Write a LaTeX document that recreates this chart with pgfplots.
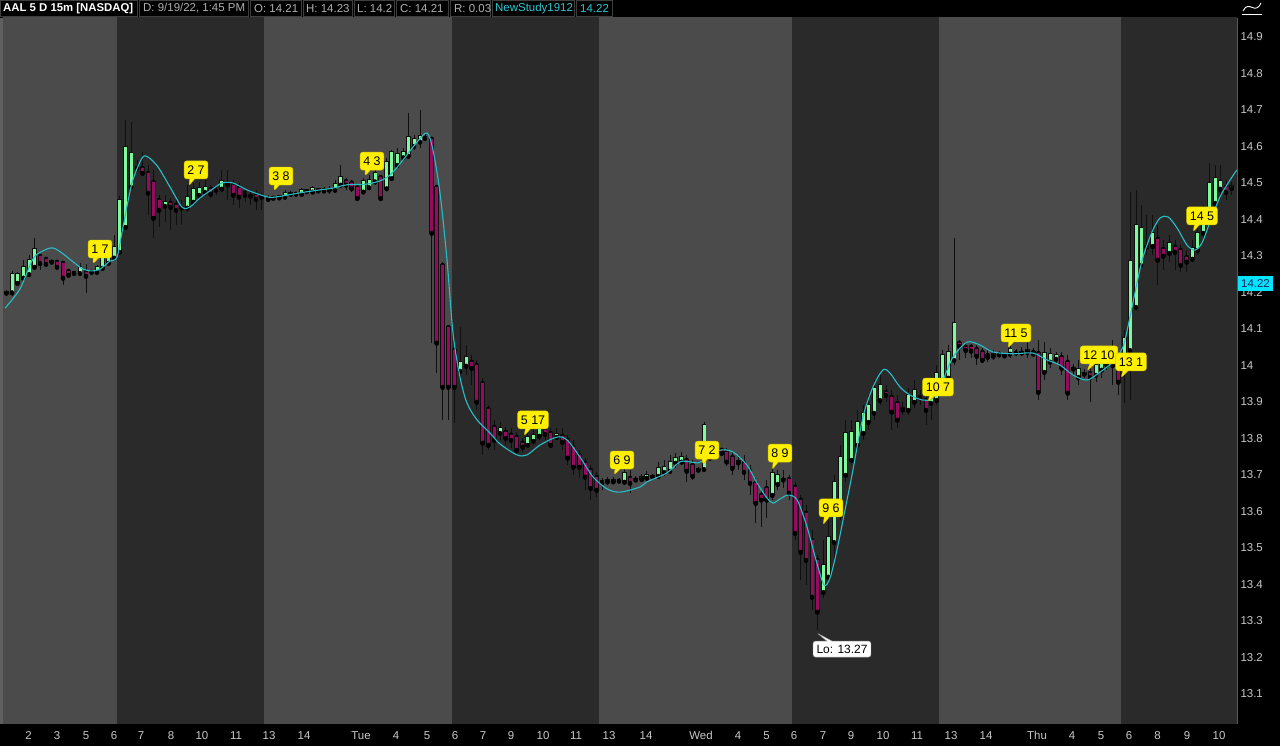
\documentclass[border=0pt]{standalone}
\usepackage{fontspec}
\setmainfont{Liberation Sans}
\usepackage{pgfplots}
\usepackage{pgfplotstable}
\pgfplotsset{compat=1.18}
\usetikzlibrary{shapes.callouts,backgrounds}

\definecolor{bandlight}{RGB}{75,75,75}
\definecolor{banddark}{RGB}{42,42,42}
\definecolor{upc}{RGB}{125,250,155}
\definecolor{downc}{RGB}{150,10,95}
\definecolor{wickc}{RGB}{15,15,15}
\definecolor{studyc}{RGB}{40,190,200}
\definecolor{tickc}{RGB}{200,200,200}
\definecolor{hdrgray}{RGB}{175,175,175}
\definecolor{hdrline}{RGB}{62,62,62}
\definecolor{hdrcyan}{RGB}{45,200,210}
\definecolor{calloutc}{RGB}{255,240,0}
\definecolor{calloutedge}{RGB}{205,190,0}
\definecolor{edgec}{RGB}{95,95,95}
\definecolor{rimc}{RGB}{90,90,90}
\definecolor{lotagedge}{RGB}{150,150,150}
\definecolor{pricetag}{RGB}{0,228,255}
\definecolor{pricetext}{RGB}{20,40,90}

% x = bar position on the time scale, o h l c = prices
\pgfplotstableread{
x o h l c
6.5 14.199 14.205 14.195 14.203
12 14.20 14.26 14.19 14.25
17.5 14.226 14.256 14.22 14.25
23.3 14.24 14.289 14.234 14.27
29 14.25 14.303 14.245 14.29
34.5 14.27 14.349 14.264 14.32
51.7 14.284 14.29 14.28 14.288
74 14.253 14.259 14.251 14.257
80 14.253 14.281 14.248 14.27
91.7 14.256 14.262 14.253 14.26
97 14.256 14.275 14.253 14.27
102.5 14.267 14.311 14.262 14.295
108.5 14.281 14.316 14.275 14.297
114 14.295 14.358 14.289 14.325
119.5 14.311 14.464 14.303 14.453
125.5 14.379 14.673 14.371 14.599
131 14.489 14.667 14.481 14.582
137 14.541 14.563 14.53 14.545
165 14.437 14.467 14.393 14.448
181.7 14.432 14.453 14.385 14.436
187.3 14.432 14.495 14.421 14.462
193.3 14.448 14.50 14.44 14.484
199 14.467 14.503 14.459 14.486
205 14.475 14.508 14.464 14.489
216 14.481 14.495 14.467 14.485
221.7 14.484 14.536 14.475 14.505
227.7 14.495 14.536 14.453 14.499
250.7 14.464 14.481 14.44 14.468
261.7 14.462 14.473 14.426 14.466
268.3 14.456 14.467 14.448 14.460
273.3 14.459 14.465 14.455 14.463
279.3 14.460 14.466 14.456 14.464
285 14.462 14.481 14.456 14.473
290.7 14.470 14.478 14.467 14.474
296 14.470 14.476 14.466 14.474
301.7 14.47 14.486 14.464 14.481
306.7 14.477 14.483 14.473 14.481
312.7 14.476 14.492 14.47 14.487
318.3 14.479 14.486 14.475 14.483
324 14.479 14.489 14.473 14.483
329.3 14.481 14.492 14.47 14.485
335 14.481 14.508 14.475 14.497
340.7 14.495 14.549 14.486 14.517
363.3 14.476 14.514 14.47 14.506
369 14.488 14.522 14.481 14.508
375 14.504 14.541 14.495 14.528
386.7 14.485 14.568 14.481 14.558
391.7 14.513 14.59 14.508 14.586
397.3 14.549 14.596 14.541 14.579
403.3 14.570 14.596 14.563 14.586
408.3 14.574 14.692 14.568 14.627
414 14.601 14.632 14.59 14.621
420 14.613 14.70 14.596 14.629
425 14.623 14.637 14.618 14.627
460 13.985 14.105 13.96 14.01
466 13.999 14.056 13.974 14.023
500 13.815 13.845 13.796 13.829
527.7 13.782 13.818 13.774 13.804
533.3 13.793 13.829 13.782 13.81
539.3 13.807 13.851 13.796 13.826
556.7 13.804 13.829 13.796 13.812
602 13.679 13.692 13.659 13.683
607.5 13.682 13.695 13.673 13.686
613.3 13.682 13.695 13.675 13.686
619 13.684 13.692 13.678 13.688
624.5 13.681 13.719 13.673 13.706
635.7 13.687 13.697 13.68 13.691
641.7 13.689 13.703 13.684 13.695
646.7 13.692 13.711 13.686 13.70
652.7 13.695 13.703 13.69 13.699
658.3 13.697 13.736 13.692 13.719
664 13.708 13.741 13.697 13.722
670 13.711 13.755 13.703 13.736
675.7 13.733 13.76 13.719 13.747
681.7 13.736 13.763 13.727 13.749
698.3 13.714 13.722 13.708 13.718
704 13.716 13.845 13.708 13.837
710 13.747 13.77 13.74 13.763
738.3 13.734 13.755 13.714 13.738
772.3 13.645 13.727 13.632 13.706
777.7 13.675 13.714 13.659 13.70
783.3 13.687 13.714 13.664 13.691
823.3 13.379 13.522 13.363 13.453
828.3 13.421 13.577 13.412 13.53
834 13.516 13.70 13.467 13.681
840 13.596 13.782 13.577 13.749
845.7 13.70 13.851 13.68 13.815
851.7 13.741 13.851 13.736 13.818
857.3 13.782 13.878 13.768 13.845
863.3 13.815 13.892 13.796 13.87
868.3 13.845 13.919 13.823 13.892
874 13.87 13.96 13.851 13.938
880 13.905 13.974 13.892 13.947
902.7 13.879 13.90 13.864 13.883
908.3 13.878 13.938 13.864 13.919
914.3 13.90 13.96 13.884 13.933
920 13.912 13.933 13.892 13.916
931 13.897 13.933 13.851 13.911
936.7 13.905 14.001 13.892 13.979
942.7 13.96 14.042 13.947 14.029
948.3 13.966 14.056 13.947 14.037
954 14.015 14.349 14.001 14.116
993.3 14.026 14.042 14.015 14.032
999 14.030 14.040 14.02 14.034
1004.5 14.027 14.035 14.02 14.031
1010 14.032 14.056 14.021 14.045
1016 14.035 14.045 14.026 14.039
1021.7 14.035 14.05 14.026 14.039
1027.3 14.037 14.064 14.021 14.042
1044.3 13.982 14.064 13.96 14.034
1050 14.01 14.048 13.993 14.032
1056 14.018 14.037 14.004 14.029
1073.3 13.991 14.005 13.974 13.995
1078.3 13.968 14.015 13.947 13.99
1084.3 13.977 13.99 13.966 13.981
1096 13.974 14.021 13.955 14.001
1101.7 13.988 14.029 13.966 14.01
1106.7 14.001 14.034 13.988 14.015
1124.3 13.996 14.097 13.897 14.075
1130 14.042 14.475 13.905 14.286
1136 14.16 14.481 14.152 14.385
1141 14.275 14.44 14.267 14.377
1146.7 14.325 14.412 14.303 14.329
1152.7 14.327 14.412 14.303 14.363
1169.3 14.308 14.358 14.284 14.336
1192.3 14.292 14.344 14.284 14.322
1197.7 14.316 14.385 14.303 14.363
1203.3 14.363 14.44 14.344 14.426
1209 14.421 14.555 14.412 14.50
1215 14.445 14.549 14.426 14.514
1220 14.484 14.549 14.467 14.505
1231.7 14.486 14.503 14.467 14.492
}\upbars

\pgfplotstableread{
x o h l c
40 14.30 14.303 14.262 14.28
46 14.292 14.297 14.27 14.278
57 14.284 14.289 14.267 14.27
63 14.281 14.286 14.221 14.24
68.5 14.259 14.264 14.242 14.248
86 14.256 14.278 14.199 14.245
142.5 14.541 14.585 14.522 14.527
148 14.527 14.549 14.412 14.473
153.5 14.503 14.536 14.349 14.404
159 14.453 14.467 14.379 14.426
170.7 14.445 14.459 14.371 14.434
176 14.44 14.453 14.385 14.426
210.7 14.484 14.495 14.459 14.47
233.3 14.495 14.508 14.44 14.467
239 14.486 14.50 14.432 14.462
245 14.473 14.486 14.448 14.467
256 14.467 14.481 14.426 14.456
346 14.505 14.514 14.481 14.495
351.7 14.501 14.508 14.475 14.485
357.3 14.488 14.495 14.453 14.458
380.7 14.516 14.522 14.453 14.458
431.7 14.621 14.626 14.062 14.363
436.7 14.489 14.495 13.979 14.062
442.7 14.275 14.284 13.851 13.941
448.3 14.105 14.111 13.851 13.941
454.3 14.042 14.056 13.842 13.941
471.7 14.01 14.029 13.947 13.993
476.7 14.001 14.015 13.878 13.90
482.7 13.952 13.966 13.755 13.788
488.3 13.881 13.892 13.768 13.782
494.3 13.832 13.851 13.768 13.796
505.7 13.818 13.832 13.782 13.801
511 13.81 13.829 13.774 13.796
516.7 13.804 13.818 13.755 13.768
522.7 13.788 13.801 13.763 13.777
545 13.823 13.837 13.796 13.812
550.7 13.815 13.829 13.774 13.782
562.3 13.807 13.829 13.768 13.79
567.7 13.796 13.81 13.727 13.747
573.3 13.777 13.796 13.70 13.722
579.3 13.755 13.768 13.692 13.722
585 13.733 13.747 13.659 13.695
590.7 13.714 13.727 13.632 13.664
596.7 13.695 13.708 13.64 13.659
630 13.692 13.714 13.651 13.678
686.7 13.741 13.755 13.681 13.711
692.7 13.727 13.741 13.686 13.697
716 13.768 13.775 13.755 13.758
721.7 13.769 13.775 13.755 13.760
726.7 13.763 13.774 13.725 13.736
732.3 13.749 13.763 13.70 13.719
744 13.733 13.755 13.686 13.708
750 13.711 13.727 13.645 13.678
755.7 13.678 13.692 13.569 13.623
761.3 13.645 13.66 13.558 13.632
766.7 13.664 13.686 13.582 13.632
789 13.689 13.70 13.632 13.651
795 13.667 13.681 13.522 13.541
800.7 13.632 13.645 13.412 13.489
806 13.596 13.618 13.399 13.467
812 13.522 13.549 13.33 13.366
817.3 13.467 13.481 13.275 13.325
886 13.927 13.947 13.90 13.919
891.7 13.914 13.933 13.823 13.873
897.3 13.897 13.919 13.829 13.851
926 13.905 13.925 13.837 13.878
959.3 14.062 14.07 14.015 14.053
965.7 14.051 14.064 14.021 14.042
971 14.051 14.059 14.021 14.04
976.7 14.045 14.056 14.001 14.026
982.3 14.037 14.048 14.01 14.015
987.7 14.029 14.042 14.01 14.023
1033.3 14.037 14.048 14.026 14.032
1038.3 14.034 14.07 13.905 13.927
1061.7 14.023 14.037 13.974 13.993
1067.7 14.01 14.029 13.905 13.925
1090 13.979 13.993 13.90 13.968
1112.7 14.015 14.07 13.947 14.001
1118.3 13.988 14.015 13.919 13.955
1157.7 14.347 14.385 14.221 14.289
1163.3 14.319 14.344 14.262 14.30
1175 14.325 14.344 14.262 14.311
1180.7 14.316 14.33 14.256 14.275
1186.7 14.297 14.316 14.256 14.284
1226 14.489 14.508 14.453 14.475
}\downbars

\tikzset{
  tag/.style={rectangle callout, fill=calloutc, draw=calloutedge,
    rounded corners=2.5bp, text=black, font=\fontsize{12.5}{13}\selectfont,
    inner xsep=3.2bp, inner ysep=0bp, minimum height=18bp, callout pointer width=5bp},
}

\begin{document}
\begin{tikzpicture}[x=1bp, y=1bp]
\begin{axis}[
  scale only axis, width=1234bp, height=706bp,
  xmin=3, xmax=1237, ymin=13.0178, ymax=14.952,
  clip marker paths=true,
  axis line style={draw=none},
  major tick length=0pt,
  ytick={13.1,13.2,13.3,13.4,13.5,13.6,13.7,13.8,13.9,14,14.1,14.2,14.3,14.4,14.5,14.6,14.7,14.8,14.9},
  yticklabels={13.1,13.2,13.3,13.4,13.5,13.6,13.7,13.8,13.9,14,14.1,14.2,14.3,14.4,14.5,14.6,14.7,14.8,14.9},
  yticklabel pos=right,
  yticklabel style={anchor=west, text=tickc, font=\fontsize{11.5}{12}\selectfont},
  xtick={28.6,57,86,114,141,171,202,236,269,304,361,396,427,455,483,511,543,576,609,646,701,738,766.5,794,823,851,883,917,951,986,1037,1072,1101,1129,1157.5,1187,1219},
  xticklabels={2,3,5,6,7,8,10,11,13,14,Tue,4,5,6,7,9,10,11,13,14,Wed,4,5,6,7,9,10,11,13,14,Thu,4,5,6,8,9,10},
  xticklabel style={anchor=base, yshift=-15.5bp, text=tickc, font=\fontsize{11.5}{12}\selectfont},
  /pgf/number format/assume math mode=true,
]
\coordinate (O) at (rel axis cs:0,0);
% session shading
\fill[bandlight] (axis cs:3,13) rectangle (axis cs:117,15);
\fill[banddark] (axis cs:117,13) rectangle (axis cs:264,15);
\fill[bandlight] (axis cs:264,13) rectangle (axis cs:452,15);
\fill[banddark] (axis cs:452,13) rectangle (axis cs:599,15);
\fill[bandlight] (axis cs:599,13) rectangle (axis cs:792,15);
\fill[banddark] (axis cs:792,13) rectangle (axis cs:939,15);
\fill[bandlight] (axis cs:939,13) rectangle (axis cs:1121,15);
\fill[banddark] (axis cs:1121,13) rectangle (axis cs:1237,15);

% wicks
\addplot[only marks, mark=none, error bars/.cd, y dir=both, y explicit, error mark=none,
  error bar style={line width=1bp, color=wickc}]
  table[x=x, y=o, y error plus expr=\thisrow{h}-\thisrow{o}, y error minus expr=\thisrow{o}-\thisrow{l}] {\upbars};
\addplot[only marks, mark=none, error bars/.cd, y dir=both, y explicit, error mark=none,
  error bar style={line width=1bp, color=wickc}]
  table[x=x, y=o, y error plus expr=\thisrow{h}-\thisrow{o}, y error minus expr=\thisrow{o}-\thisrow{l}] {\downbars};

% bodies: dark outline, then colour
\addplot[only marks, mark=none, error bars/.cd, y dir=plus, y explicit, error mark=none,
  error bar style={line width=4.6bp, color=wickc}]
  table[x=x, y expr=\thisrow{o}-0.002, y error plus expr=\thisrow{c}-\thisrow{o}+0.004] {\upbars};
\addplot[only marks, mark=none, error bars/.cd, y dir=plus, y explicit, error mark=none,
  error bar style={line width=3bp, color=upc}]
  table[x=x, y=o, y error plus expr=\thisrow{c}-\thisrow{o}] {\upbars};
\addplot[only marks, mark=none, error bars/.cd, y dir=plus, y explicit, error mark=none,
  error bar style={line width=4.6bp, color=wickc}]
  table[x=x, y expr=\thisrow{c}-0.002, y error plus expr=\thisrow{o}-\thisrow{c}+0.004] {\downbars};
\addplot[only marks, mark=none, error bars/.cd, y dir=plus, y explicit, error mark=none,
  error bar style={line width=3bp, color=downc}]
  table[x=x, y=c, y error plus expr=\thisrow{o}-\thisrow{c}] {\downbars};

% NewStudy1912
\addplot[color=studyc, line width=1.1bp, smooth, mark=none] coordinates {
(5,14.157) (20,14.21) (33,14.292) (43,14.314) (53,14.322) (63,14.306) (73,14.284)
(83,14.264) (92,14.259) (100,14.264) (110,14.286) (117,14.297) (123,14.379) (132,14.5)
(142,14.568) (148,14.571) (158,14.544) (170,14.489) (182,14.434) (190,14.434) (200,14.459)
(213,14.484) (222,14.5) (233,14.5) (247,14.481) (267,14.462) (277,14.462) (300,14.473)
(320,14.481) (333,14.486) (347,14.495) (367,14.497) (382,14.508) (392,14.527) (403,14.563)
(417,14.612) (427,14.637) (433,14.59) (440,14.473) (447,14.289) (453,14.089) (460,13.968)
(467,13.897) (477,13.851) (490,13.815) (500,13.785) (517,13.755) (527,13.755) (540,13.782)
(557,13.804) (567,13.796) (580,13.749) (593,13.695) (607,13.662) (620,13.653) (640,13.667)
(647,13.681) (667,13.706) (680,13.736) (690,13.736) (698,13.733) (707,13.747) (720,13.768)
(733,13.763) (747,13.727) (757,13.678) (767,13.637) (773,13.623) (780,13.634) (788,13.645)
(797,13.632) (807,13.558) (816,13.467) (824,13.399) (830,13.418) (837,13.495) (845,13.604)
(852,13.7) (863,13.859) (873,13.941) (883,13.988) (890,13.979) (900,13.941) (910,13.919)
(923,13.905) (933,13.911) (943,13.96) (953,14.023) (967,14.064) (980,14.056) (993,14.037)
(1013,14.032) (1033,14.034) (1047,14.015) (1060,14.001) (1073,13.974) (1087,13.96)
(1100,13.982) (1113,14.01) (1123,14.051) (1130,14.133) (1137,14.226) (1143,14.297)
(1152,14.366) (1160,14.404) (1168,14.407) (1177,14.377) (1187,14.33) (1195,14.316)
(1202,14.336) (1210,14.393) (1220,14.462) (1230,14.508) (1237,14.536)
};

% anchor points for the trade labels: label centre and pointer tip
\coordinate (c1) at (axis cs:100,14.319);   \coordinate (p1) at (axis cs:93,14.278);
\coordinate (c2) at (axis cs:196,14.536);   \coordinate (p2) at (axis cs:189,14.492);
\coordinate (c3) at (axis cs:281,14.519);   \coordinate (p3) at (axis cs:274,14.478);
\coordinate (c4) at (axis cs:372,14.560);   \coordinate (p4) at (axis cs:365,14.519);
\coordinate (c5) at (axis cs:533,13.851);   \coordinate (p5) at (axis cs:524,13.807);
\coordinate (c6) at (axis cs:622,13.741);   \coordinate (p6) at (axis cs:614,13.70);
\coordinate (c7) at (axis cs:707,13.768);   \coordinate (p7) at (axis cs:703,13.727);
\coordinate (c8) at (axis cs:780,13.760);   \coordinate (p8) at (axis cs:772,13.714);
\coordinate (c9) at (axis cs:831,13.610);   \coordinate (p9) at (axis cs:823,13.563);
\coordinate (c10) at (axis cs:938,13.941);  \coordinate (p10) at (axis cs:928,13.90);
\coordinate (c11) at (axis cs:1016,14.089); \coordinate (p11) at (axis cs:1008,14.048);
\coordinate (c12) at (axis cs:1099,14.029); \coordinate (p12) at (axis cs:1087,13.985);
\coordinate (c13) at (axis cs:1131,14.010); \coordinate (p13) at (axis cs:1121,13.966);
\coordinate (c14) at (axis cs:1202,14.410); \coordinate (p14) at (axis cs:1193,14.366);
\coordinate (clo) at (axis cs:842,13.223);  \coordinate (plo) at (axis cs:817,13.267);
\end{axis}

% trade labels, on top of the candles
\node[tag, callout absolute pointer={(p1)}] at (c1) {1 7};
\node[tag, callout absolute pointer={(p2)}] at (c2) {2 7};
\node[tag, callout absolute pointer={(p3)}] at (c3) {3 8};
\node[tag, callout absolute pointer={(p4)}] at (c4) {4 3};
\node[tag, callout absolute pointer={(p5)}] at (c5) {5 17};
\node[tag, callout absolute pointer={(p6)}] at (c6) {6 9};
\node[tag, callout absolute pointer={(p7)}] at (c7) {7 2};
\node[tag, callout absolute pointer={(p8)}] at (c8) {8 9};
\node[tag, callout absolute pointer={(p9)}] at (c9) {9 6};
\node[tag, callout absolute pointer={(p10)}] at (c10) {10 7};
\node[tag, callout absolute pointer={(p11)}] at (c11) {11 5};
\node[tag, callout absolute pointer={(p12)}] at (c12) {12 10};
\node[tag, callout absolute pointer={(p13)}] at (c13) {13 1};
\node[tag, callout absolute pointer={(p14)}] at (c14) {14 5};
\node[tag, fill=white, draw=lotagedge, minimum height=16bp,
  font=\fontsize{12}{13}\selectfont, inner xsep=3.5bp,
  callout absolute pointer={(plo)}] at (clo) {Lo: 13.27};

% everything else in screen pixels, origin at the picture's lower left
\begin{scope}[shift={(O)}, xshift=-3bp, yshift=-22bp]
\begin{scope}[on background layer]
\fill[black] (0,0) rectangle (1280,746);
\end{scope}
\fill[edgec] (0,22) rectangle (3,728);
\draw[rimc, line width=1bp] (1237.5,22) -- (1237.5,728);

% last value tag
\node[fill=pricetag, text=pricetext,
  font=\fontsize{11.5}{12}\selectfont, inner xsep=2bp, inner ysep=0bp,
  minimum height=15bp, minimum width=35bp] at (1255.5,462.5) {14.22};

% header strip
\fill[black] (0,729) rectangle (1280,746);
\begin{scope}[hdrline, line width=1bp]
\draw (1,729.5) rectangle (137,745.5);
\draw (139,729.5) rectangle (248,745.5);
\draw (250,729.5) rectangle (301,745.5);
\draw (303,729.5) rectangle (352,745.5);
\draw (354,729.5) rectangle (394,745.5);
\draw (396,729.5) rectangle (448,745.5);
\draw (450,729.5) rectangle (490,745.5);
\draw (492,729.5) rectangle (574,745.5);
\draw (576,729.5) rectangle (612,745.5);
\end{scope}
\begin{scope}[every node/.style={anchor=west, inner sep=0pt, font=\fontsize{11.5}{12}\selectfont, text=hdrgray}]
\node[text=white, font=\fontsize{11.4}{12}\selectfont\bfseries] at (3,737.5) {AAL 5 D 15m [NASDAQ]};
\node at (143,737.5) {D: 9/19/22, 1:45 PM};
\node at (254,737.5) {O: 14.21};
\node at (306,737.5) {H: 14.23};
\node at (357,737.5) {L: 14.2};
\node at (400,737.5) {C: 14.21};
\node at (454,737.5) {R: 0.03};
\node[text=hdrcyan] at (495,737.5) {NewStudy1912};
\node[text=hdrcyan] at (580,737.5) {14.22};
\end{scope}

% study icon, top right
\draw[white, line width=0.9bp] (1242,732) -- (1262,732);
\draw[white, line width=0.9bp] (1243,735) .. controls (1249,747) and (1255,730) .. (1261,743);

\pgfresetboundingbox
\useasboundingbox (0,0) rectangle (1280,746);
\end{scope}
\end{tikzpicture}
\end{document}
